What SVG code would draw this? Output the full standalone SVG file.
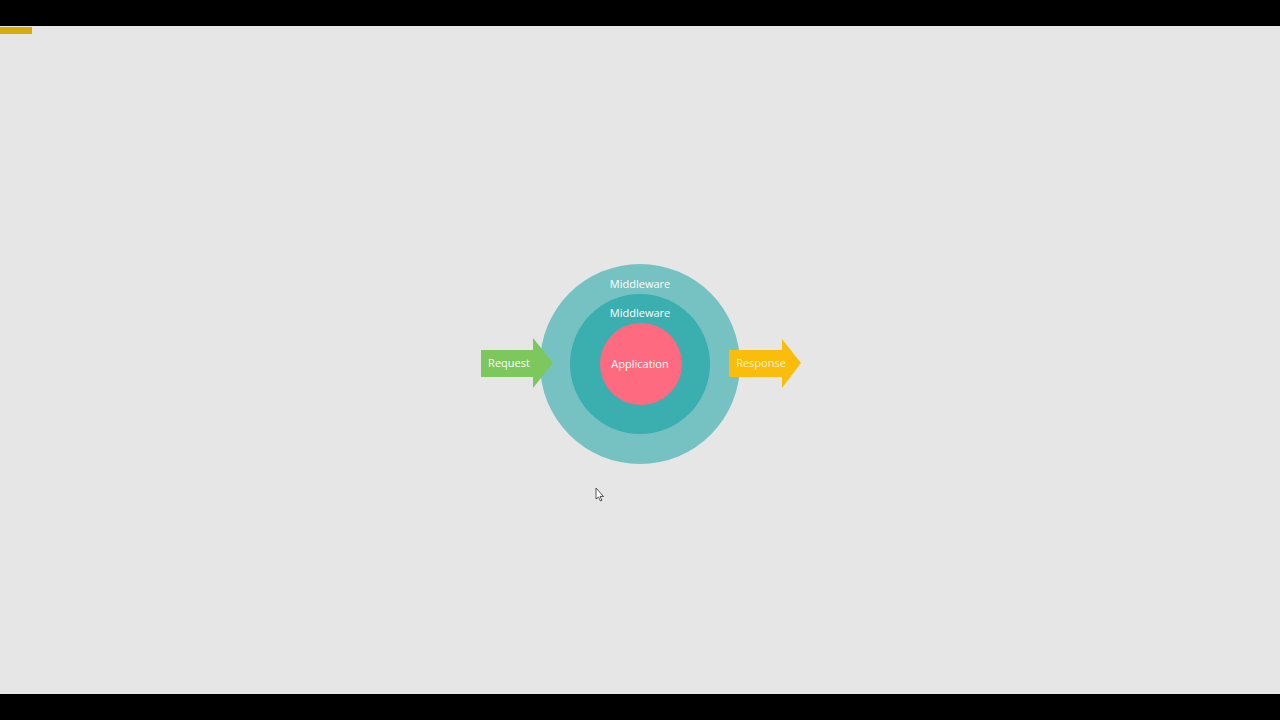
<svg xmlns="http://www.w3.org/2000/svg" width="1280" height="720" viewBox="0 0 1280 720">
<style>
.lbl{font-family:"Open Sans","Liberation Sans",sans-serif;font-size:11px;fill:#ffffff;text-anchor:middle;dominant-baseline:central}
</style>
<rect x="0" y="0" width="1280" height="720" fill="#e6e6e6"/>
<rect x="0" y="0" width="1280" height="26" fill="#000"/>
<rect x="0" y="694" width="1280" height="26" fill="#000"/>
<rect x="0" y="27" width="32" height="7" fill="#d6ab0a"/>
<g id="outer-middleware">
<circle cx="640" cy="364" r="100" fill="#76c2c2"/>
<text class="lbl" x="640" y="283">Middleware</text>
</g>
<g id="inner-middleware">
<circle cx="640" cy="364" r="70" fill="#3bafaf"/>
<text class="lbl" x="640" y="312">Middleware</text>
</g>
<g id="application">
<circle cx="641" cy="364" r="41" fill="#fe6b80"/>
<text class="lbl" x="640" y="363">Application</text>
</g>
<g id="connectors">
<g id="request">
<polygon points="481,350 533,350 533,338 553,363 533,388 533,377 481,377" fill="#7cc85d"/>
<text class="lbl" x="509" y="362">Request</text>
</g>
<g id="response">
<polygon points="729,350 782,350 782,339 801,363 782,388 782,377 729,377" fill="#fbbd0b"/>
<text class="lbl" x="761" y="362" fill-opacity="0.85">Response</text>
</g>
</g>
<path d="M596,488 L596,499 L598.5,497 L600.5,501 L602,500.3 L600,496.5 L603.5,496.5 Z" fill="#fff" stroke="#333" stroke-width="0.8"/>
</svg>
